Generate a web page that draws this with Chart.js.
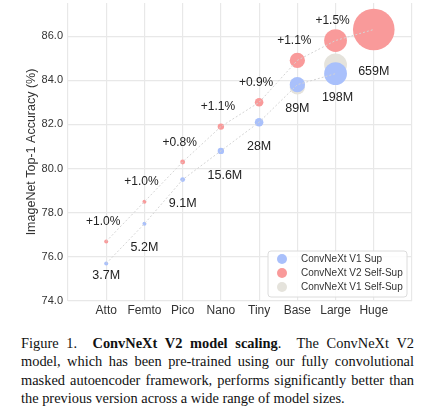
<!DOCTYPE html>
<html>
<head>
<meta charset="utf-8">
<script src="https://cdn.jsdelivr.net/npm/chart.js@4.4.1/dist/chart.umd.min.js"></script>
<style>
  html, body { margin: 0; padding: 0; background: #fff; }
  body { width: 429px; height: 408px; position: relative; overflow: hidden; }
  #wrap { position: absolute; left: 0; top: 0; width: 429px; height: 320px; }
  #caption {
    position: absolute; left: 21px; top: 334px; width: 393px; margin: 0;
    font-family: "Liberation Serif", "Times New Roman", serif; font-size: 14.4px;
    line-height: 18.3px; color: #111; text-align: justify;
  }
</style>
</head>
<body>
<div id="wrap"><canvas id="chart"></canvas></div>
<p id="caption">Figure 1.&nbsp; <b>ConvNeXt V2 model scaling</b>.&nbsp; The ConvNeXt V2 model, which has been pre-trained using our fully convolutional masked autoencoder framework, performs significantly better than the previous version across a wide range of model sizes.</p>
<script>
const models = ["Atto", "Femto", "Pico", "Nano", "Tiny", "Base", "Large", "Huge"];
const params = [3.7, 5.2, 9.1, 15.6, 28, 89, 198, 659];
const paramLabels = ["3.7M", "5.2M", "9.1M", "15.6M", "28M", "89M", "198M", "659M"];
const v1Sup = [75.7, 77.5, 79.5, 80.8, 82.1, 83.8, 84.3, null];
const v2SelfSup = [76.7, 78.5, 80.3, 81.9, 83.0, 84.9, 85.8, 86.3];
const v1SelfSup = [null, null, null, null, null, 83.7, 84.7, null];
const gains = ["+1.0%", "+1.0%", "+0.8%", "+1.1%", "+0.9%", "+1.1%", "+1.5%", null];
const yTicks = [74, 76, 78, 80, 82, 84, 86];

const RED = "#f99a9a", BLUE = "#a9c0fb", GRAY = "#e5e3dc";

function points(vals) {
  return vals.map((v, i) => v == null ? null : { x: i, y: v }).filter(p => p);
}
function radius(ctx) {
  return Math.max(2, 0.81 * Math.sqrt(params[ctx.raw.x]));
}

// text labels above / below the bubbles
const labelPlugin = {
  id: "labels",
  afterDatasetsDraw(chart) {
    const { ctx, scales: { x, y } } = chart;
    ctx.save();
    ctx.font = "12px 'Liberation Sans', Arial, sans-serif";
    ctx.fillStyle = "#222";
    ctx.textAlign = "center";
    ctx.textBaseline = "middle";
    gains.forEach((g, i) => {
      if (!g) return;
      ctx.fillText(g, x.getPixelForValue(i) - 3, y.getPixelForValue(v2SelfSup[i]) - 19.5);
    });
    ctx.font = "12.5px 'Liberation Sans', Arial, sans-serif";
    paramLabels.forEach((t, i) => {
      let base = v1Sup[i], drop = 1.1;
      if (base == null) { base = v2SelfSup[i]; drop = 1.9; }
      if (i === 0) drop = 0.55;
      const dx = i === 3 ? 4 : (i === 6 ? 2 : 0);
      ctx.fillText(t, x.getPixelForValue(i) + dx, y.getPixelForValue(base - drop));
    });
    ctx.restore();
  }
};

// legend box inside the plot area, bottom right
const legendBox = {
  id: "legendBox",
  afterDraw(chart) {
    const { ctx, chartArea } = chart;
    const w = 139, h = 46;
    const bx = chartArea.right - 5 - w, by = chartArea.bottom - 4 - h;
    ctx.save();
    ctx.beginPath();
    ctx.roundRect(bx, by, w, h, 3);
    ctx.fillStyle = "rgba(255,255,255,0.85)";
    ctx.fill();
    ctx.strokeStyle = "#dcdcdc";
    ctx.lineWidth = 1;
    ctx.stroke();
    const items = [["ConvNeXt V1 Sup", BLUE], ["ConvNeXt V2 Self-Sup", RED], ["ConvNeXt V1 Self-Sup", GRAY]];
    ctx.font = "10px 'Liberation Sans', Arial, sans-serif";
    ctx.textBaseline = "middle";
    items.forEach(([t, c], k) => {
      const cy = by + 8 + k * 14;
      ctx.beginPath();
      ctx.arc(bx + 14, cy, 5, 0, Math.PI * 2);
      ctx.fillStyle = c;
      ctx.fill();
      ctx.fillStyle = "#333";
      ctx.fillText(t, bx + 33, cy);
    });
    ctx.restore();
  }
};

const lineStyle = {
  type: "line", borderColor: "#d4d4d4", borderWidth: 1, borderDash: [2, 2],
  pointRadius: 0, fill: false, tension: 0
};

new Chart(document.getElementById("chart"), {
  type: "bubble",
  data: {
    datasets: [
      Object.assign({ label: "v2 line", data: points(v2SelfSup), order: 0 }, lineStyle),
      Object.assign({ label: "v1 line", data: points(v1Sup), order: 0 }, lineStyle),
      { label: "ConvNeXt V2 Self-Sup", data: points(v2SelfSup), backgroundColor: RED, borderWidth: 0, radius, order: 1 },
      { label: "ConvNeXt V1 Sup", data: points(v1Sup), backgroundColor: BLUE, borderWidth: 0, radius, order: 2 },
      { label: "ConvNeXt V1 Self-Sup", data: points(v1SelfSup), backgroundColor: GRAY, borderWidth: 0, radius, order: 3 }
    ]
  },
  options: {
    responsive: true,
    maintainAspectRatio: false,
    animation: false,
    events: [],
    layout: { autoPadding: false, padding: { top: 3, right: 17, left: 0, bottom: 0 } },
    plugins: { legend: { display: false }, tooltip: { enabled: false } },
    scales: {
      x: {
        type: "linear", min: -1, max: 8,
        afterFit: s => { s.height = 19; s.paddingLeft = 0; s.paddingRight = 0; },
        grid: { color: "#e8e8e8", lineWidth: 1.2, drawTicks: false },
        border: { display: false },
        ticks: {
          stepSize: 1, padding: 2, color: "#333", autoSkip: false,
          maxRotation: 0, minRotation: 0,
          font: { family: "'Liberation Sans', Arial, sans-serif", size: 12 },
          callback: v => models[v] || ""
        }
      },
      y: {
        type: "linear", min: 74, max: 87.5,
        afterFit: s => { s.width = 68; s.paddingTop = 0; s.paddingBottom = 0; },
        afterBuildTicks: s => { s.ticks = yTicks.map(v => ({ value: v })); },
        grid: { color: "#e8e8e8", lineWidth: 1.2, drawTicks: false },
        border: { display: false },
        ticks: {
          padding: 5, color: "#333",
          font: { family: "'Liberation Sans', Arial, sans-serif", size: 11 },
          callback: v => v.toFixed(1)
        },
        title: {
          display: true, text: "ImageNet Top-1 Accuracy (%)", color: "#333",
          font: { family: "'Liberation Sans', Arial, sans-serif", size: 12.5 },
          padding: { top: 24, bottom: 0 }
        }
      }
    }
  },
  plugins: [labelPlugin, legendBox]
});
</script>
</body>
</html>
